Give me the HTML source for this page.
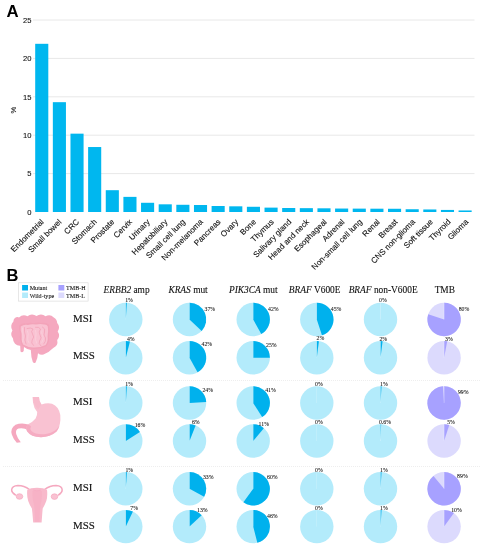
<!DOCTYPE html><html><head><meta charset="utf-8"><style>html,body{margin:0;padding:0;background:#fff;width:488px;height:550px;overflow:hidden}svg{display:block;will-change:transform}</style></head><body>
<svg width="488" height="550" viewBox="0 0 488 550">
<rect width="488" height="550" fill="#fff"/>
<text x="6.5" y="16.6" font-family="Liberation Sans" font-weight="bold" font-size="16.8">A</text>
<text x="31.5" y="214.70" font-family="Liberation Sans" font-size="7.6" text-anchor="end" fill="#111" stroke="#111" stroke-width="0.1">0</text>
<line x1="33" x2="474.5" y1="173.60" y2="173.60" stroke="#e8e8e8" stroke-width="1"/>
<text x="31.5" y="176.30" font-family="Liberation Sans" font-size="7.6" text-anchor="end" fill="#111" stroke="#111" stroke-width="0.1">5</text>
<line x1="33" x2="474.5" y1="135.20" y2="135.20" stroke="#e8e8e8" stroke-width="1"/>
<text x="31.5" y="137.90" font-family="Liberation Sans" font-size="7.6" text-anchor="end" fill="#111" stroke="#111" stroke-width="0.1">10</text>
<line x1="33" x2="474.5" y1="96.80" y2="96.80" stroke="#e8e8e8" stroke-width="1"/>
<text x="31.5" y="99.50" font-family="Liberation Sans" font-size="7.6" text-anchor="end" fill="#111" stroke="#111" stroke-width="0.1">15</text>
<line x1="33" x2="474.5" y1="58.40" y2="58.40" stroke="#e8e8e8" stroke-width="1"/>
<text x="31.5" y="61.10" font-family="Liberation Sans" font-size="7.6" text-anchor="end" fill="#111" stroke="#111" stroke-width="0.1">20</text>
<line x1="33" x2="474.5" y1="20.00" y2="20.00" stroke="#e8e8e8" stroke-width="1"/>
<text x="31.5" y="22.70" font-family="Liberation Sans" font-size="7.6" text-anchor="end" fill="#111" stroke="#111" stroke-width="0.1">25</text>
<text transform="translate(15.5,110) rotate(-90)" font-family="Liberation Sans" font-size="7.6" text-anchor="middle" fill="#111" stroke="#111" stroke-width="0.1">%</text>
<rect x="35.20" y="43.81" width="13.1" height="168.19" fill="#00b7ef"/>
<text transform="translate(44.25,222.4) rotate(-45)" font-family="Liberation Sans" font-size="8.0" text-anchor="end" fill="#111" stroke="#111" stroke-width="0.12">Endometrial</text>
<rect x="52.84" y="102.18" width="13.1" height="109.82" fill="#00b7ef"/>
<text transform="translate(61.94,222.4) rotate(-45)" font-family="Liberation Sans" font-size="8.0" text-anchor="end" fill="#111" stroke="#111" stroke-width="0.12">Small bowel</text>
<rect x="70.48" y="133.66" width="13.1" height="78.34" fill="#00b7ef"/>
<text transform="translate(79.63,222.4) rotate(-45)" font-family="Liberation Sans" font-size="8.0" text-anchor="end" fill="#111" stroke="#111" stroke-width="0.12">CRC</text>
<rect x="88.12" y="147.03" width="13.1" height="64.97" fill="#00b7ef"/>
<text transform="translate(97.32,222.4) rotate(-45)" font-family="Liberation Sans" font-size="8.0" text-anchor="end" fill="#111" stroke="#111" stroke-width="0.12">Stomach</text>
<rect x="105.76" y="190.19" width="13.1" height="21.81" fill="#00b7ef"/>
<text transform="translate(115.01,222.4) rotate(-45)" font-family="Liberation Sans" font-size="8.0" text-anchor="end" fill="#111" stroke="#111" stroke-width="0.12">Prostate</text>
<rect x="123.40" y="196.87" width="13.1" height="15.13" fill="#00b7ef"/>
<text transform="translate(132.70,222.4) rotate(-45)" font-family="Liberation Sans" font-size="8.0" text-anchor="end" fill="#111" stroke="#111" stroke-width="0.12">Cervix</text>
<rect x="141.04" y="202.78" width="13.1" height="9.22" fill="#00b7ef"/>
<text transform="translate(150.39,222.4) rotate(-45)" font-family="Liberation Sans" font-size="8.0" text-anchor="end" fill="#111" stroke="#111" stroke-width="0.12">Urinary</text>
<rect x="158.68" y="204.32" width="13.1" height="7.68" fill="#00b7ef"/>
<text transform="translate(168.08,222.4) rotate(-45)" font-family="Liberation Sans" font-size="8.0" text-anchor="end" fill="#111" stroke="#111" stroke-width="0.12">Hepatobiliary</text>
<rect x="176.32" y="204.78" width="13.1" height="7.22" fill="#00b7ef"/>
<text transform="translate(185.77,222.4) rotate(-45)" font-family="Liberation Sans" font-size="8.0" text-anchor="end" fill="#111" stroke="#111" stroke-width="0.12">Small cell lung</text>
<rect x="193.96" y="205.01" width="13.1" height="6.99" fill="#00b7ef"/>
<text transform="translate(203.46,222.4) rotate(-45)" font-family="Liberation Sans" font-size="8.0" text-anchor="end" fill="#111" stroke="#111" stroke-width="0.12">Non-melanoma</text>
<rect x="211.60" y="206.01" width="13.1" height="5.99" fill="#00b7ef"/>
<text transform="translate(221.15,222.4) rotate(-45)" font-family="Liberation Sans" font-size="8.0" text-anchor="end" fill="#111" stroke="#111" stroke-width="0.12">Pancreas</text>
<rect x="229.24" y="206.32" width="13.1" height="5.68" fill="#00b7ef"/>
<text transform="translate(238.84,222.4) rotate(-45)" font-family="Liberation Sans" font-size="8.0" text-anchor="end" fill="#111" stroke="#111" stroke-width="0.12">Ovary</text>
<rect x="246.88" y="206.78" width="13.1" height="5.22" fill="#00b7ef"/>
<text transform="translate(256.53,222.4) rotate(-45)" font-family="Liberation Sans" font-size="8.0" text-anchor="end" fill="#111" stroke="#111" stroke-width="0.12">Bone</text>
<rect x="264.52" y="207.62" width="13.1" height="4.38" fill="#00b7ef"/>
<text transform="translate(274.22,222.4) rotate(-45)" font-family="Liberation Sans" font-size="8.0" text-anchor="end" fill="#111" stroke="#111" stroke-width="0.12">Thymus</text>
<rect x="282.16" y="208.01" width="13.1" height="3.99" fill="#00b7ef"/>
<text transform="translate(291.91,222.4) rotate(-45)" font-family="Liberation Sans" font-size="8.0" text-anchor="end" fill="#111" stroke="#111" stroke-width="0.12">Salivary gland</text>
<rect x="299.80" y="208.16" width="13.1" height="3.84" fill="#00b7ef"/>
<text transform="translate(309.60,222.4) rotate(-45)" font-family="Liberation Sans" font-size="8.0" text-anchor="end" fill="#111" stroke="#111" stroke-width="0.12">Head and neck</text>
<rect x="317.44" y="208.31" width="13.1" height="3.69" fill="#00b7ef"/>
<text transform="translate(327.29,222.4) rotate(-45)" font-family="Liberation Sans" font-size="8.0" text-anchor="end" fill="#111" stroke="#111" stroke-width="0.12">Esophageal</text>
<rect x="335.08" y="208.54" width="13.1" height="3.46" fill="#00b7ef"/>
<text transform="translate(344.98,222.4) rotate(-45)" font-family="Liberation Sans" font-size="8.0" text-anchor="end" fill="#111" stroke="#111" stroke-width="0.12">Adrenal</text>
<rect x="352.72" y="208.62" width="13.1" height="3.38" fill="#00b7ef"/>
<text transform="translate(362.67,222.4) rotate(-45)" font-family="Liberation Sans" font-size="8.0" text-anchor="end" fill="#111" stroke="#111" stroke-width="0.12">Non-small cell lung</text>
<rect x="370.36" y="208.70" width="13.1" height="3.30" fill="#00b7ef"/>
<text transform="translate(380.36,222.4) rotate(-45)" font-family="Liberation Sans" font-size="8.0" text-anchor="end" fill="#111" stroke="#111" stroke-width="0.12">Renal</text>
<rect x="388.00" y="208.77" width="13.1" height="3.23" fill="#00b7ef"/>
<text transform="translate(398.05,222.4) rotate(-45)" font-family="Liberation Sans" font-size="8.0" text-anchor="end" fill="#111" stroke="#111" stroke-width="0.12">Breast</text>
<rect x="405.64" y="209.24" width="13.1" height="2.76" fill="#00b7ef"/>
<text transform="translate(415.74,222.4) rotate(-45)" font-family="Liberation Sans" font-size="8.0" text-anchor="end" fill="#111" stroke="#111" stroke-width="0.12">CNS non-glioma</text>
<rect x="423.28" y="209.47" width="13.1" height="2.53" fill="#00b7ef"/>
<text transform="translate(433.43,222.4) rotate(-45)" font-family="Liberation Sans" font-size="8.0" text-anchor="end" fill="#111" stroke="#111" stroke-width="0.12">Soft tissue</text>
<rect x="440.92" y="209.93" width="13.1" height="2.07" fill="#00b7ef"/>
<text transform="translate(451.12,222.4) rotate(-45)" font-family="Liberation Sans" font-size="8.0" text-anchor="end" fill="#111" stroke="#111" stroke-width="0.12">Thyroid</text>
<rect x="458.56" y="210.46" width="13.1" height="1.54" fill="#00b7ef"/>
<text transform="translate(468.81,222.4) rotate(-45)" font-family="Liberation Sans" font-size="8.0" text-anchor="end" fill="#111" stroke="#111" stroke-width="0.12">Glioma</text>
<text x="6.6" y="280.6" font-family="Liberation Sans" font-weight="bold" font-size="16.5">B</text>
<rect x="18.5" y="282.8" width="69.6" height="18.3" fill="#fff" stroke="#d8d8d8" stroke-width="0.6"/>
<rect x="22.1" y="285" width="5.9" height="5.5" fill="#00b1ed"/>
<text x="29.70" y="290.00" font-family="Liberation Serif" font-size="6.1" fill="#111" stroke="#111" stroke-width="0.08">Mutant</text>
<rect x="22.1" y="292.5" width="5.9" height="5.5" fill="#b3ebfb"/>
<text x="29.70" y="297.50" font-family="Liberation Serif" font-size="6.1" fill="#111" stroke="#111" stroke-width="0.08">Wild-type</text>
<rect x="58.4" y="285" width="5.9" height="5.5" fill="#a7a1ff"/>
<text x="66.00" y="290.00" font-family="Liberation Serif" font-size="6.1" fill="#111" stroke="#111" stroke-width="0.08">TMB-H</text>
<rect x="58.4" y="292.5" width="5.9" height="5.5" fill="#dcdafd"/>
<text x="66.00" y="297.50" font-family="Liberation Serif" font-size="6.1" fill="#111" stroke="#111" stroke-width="0.08">TMB-L</text>
<text x="126.55" y="292.6" font-family="Liberation Serif" font-size="9.4" text-anchor="middle" fill="#111" stroke="#111" stroke-width="0.1"><tspan font-style="italic">ERBB2</tspan> amp</text>
<text x="188.05" y="292.6" font-family="Liberation Serif" font-size="9.4" text-anchor="middle" fill="#111" stroke="#111" stroke-width="0.1"><tspan font-style="italic">KRAS</tspan> mut</text>
<text x="253.30" y="292.6" font-family="Liberation Serif" font-size="9.4" text-anchor="middle" fill="#111" stroke="#111" stroke-width="0.1"><tspan font-style="italic">PIK3CA</tspan> mut</text>
<text x="314.70" y="292.6" font-family="Liberation Serif" font-size="9.4" text-anchor="middle" fill="#111" stroke="#111" stroke-width="0.1"><tspan font-style="italic">BRAF</tspan> V600E</text>
<text x="383.15" y="292.6" font-family="Liberation Serif" font-size="9.4" text-anchor="middle" fill="#111" stroke="#111" stroke-width="0.1"><tspan font-style="italic">BRAF</tspan> non-V600E</text>
<text x="444.80" y="292.6" font-family="Liberation Serif" font-size="9.4" text-anchor="middle" fill="#111" stroke="#111" stroke-width="0.1">TMB</text>
<circle cx="125.8" cy="319.45" r="16.7" fill="#b3ebfb"/>
<path d="M125.80,319.45L125.80,302.75A16.7,16.7 0 0 1 126.85,302.78Z" fill="#00b1ed"/>
<line x1="125.8" y1="319.45" x2="125.8" y2="302.75" stroke="#fff" stroke-width="0.35" opacity="0.7"/>
<text x="125.2" y="302.30" font-family="Liberation Serif" font-size="5.8" fill="#111" stroke="#111" stroke-width="0.06">1%</text>
<circle cx="189.5" cy="319.45" r="16.7" fill="#b3ebfb"/>
<path d="M189.50,319.45L189.50,302.75A16.7,16.7 0 0 1 201.67,330.88Z" fill="#00b1ed"/>
<line x1="189.5" y1="319.45" x2="189.5" y2="302.75" stroke="#fff" stroke-width="0.35" opacity="0.7"/>
<text x="204.5" y="310.90" font-family="Liberation Serif" font-size="5.8" fill="#111" stroke="#111" stroke-width="0.06">37%</text>
<circle cx="253.2" cy="319.45" r="16.7" fill="#b3ebfb"/>
<path d="M253.20,319.45L253.20,302.75A16.7,16.7 0 0 1 261.25,334.08Z" fill="#00b1ed"/>
<line x1="253.2" y1="319.45" x2="253.2" y2="302.75" stroke="#fff" stroke-width="0.35" opacity="0.7"/>
<text x="268" y="311.00" font-family="Liberation Serif" font-size="5.8" fill="#111" stroke="#111" stroke-width="0.06">42%</text>
<circle cx="316.8" cy="319.45" r="16.7" fill="#b3ebfb"/>
<path d="M316.80,319.45L316.80,302.75A16.7,16.7 0 0 1 321.96,335.33Z" fill="#00b1ed"/>
<line x1="316.8" y1="319.45" x2="316.8" y2="302.75" stroke="#fff" stroke-width="0.35" opacity="0.7"/>
<text x="330.8" y="311.40" font-family="Liberation Serif" font-size="5.8" fill="#111" stroke="#111" stroke-width="0.06">45%</text>
<circle cx="380.5" cy="319.45" r="16.7" fill="#b3ebfb"/>
<line x1="380.5" y1="319.45" x2="380.5" y2="302.75" stroke="#fff" stroke-width="0.35" opacity="0.7"/>
<text x="379" y="302.00" font-family="Liberation Serif" font-size="5.8" fill="#111" stroke="#111" stroke-width="0.06">0%</text>
<circle cx="444.1" cy="319.45" r="16.7" fill="#dcdafd"/>
<path d="M444.10,319.45L444.10,302.75A16.7,16.7 0 1 1 428.22,314.29Z" fill="#a7a1ff"/>
<line x1="444.1" y1="319.45" x2="444.1" y2="302.75" stroke="#fff" stroke-width="0.35" opacity="0.7"/>
<text x="458.7" y="310.70" font-family="Liberation Serif" font-size="5.8" fill="#111" stroke="#111" stroke-width="0.06">80%</text>
<circle cx="125.8" cy="357.7" r="16.7" fill="#b3ebfb"/>
<path d="M125.80,357.70L125.80,341.00A16.7,16.7 0 0 1 129.95,341.52Z" fill="#00b1ed"/>
<line x1="125.8" y1="357.7" x2="125.8" y2="341.0" stroke="#fff" stroke-width="0.35" opacity="0.7"/>
<text x="126.9" y="341.00" font-family="Liberation Serif" font-size="5.8" fill="#111" stroke="#111" stroke-width="0.06">4%</text>
<circle cx="189.5" cy="357.7" r="16.7" fill="#b3ebfb"/>
<path d="M189.50,357.70L189.50,341.00A16.7,16.7 0 0 1 197.55,372.33Z" fill="#00b1ed"/>
<line x1="189.5" y1="357.7" x2="189.5" y2="341.0" stroke="#fff" stroke-width="0.35" opacity="0.7"/>
<text x="201.5" y="346.20" font-family="Liberation Serif" font-size="5.8" fill="#111" stroke="#111" stroke-width="0.06">42%</text>
<circle cx="253.2" cy="357.7" r="16.7" fill="#b3ebfb"/>
<path d="M253.20,357.70L253.20,341.00A16.7,16.7 0 0 1 269.90,357.70Z" fill="#00b1ed"/>
<line x1="253.2" y1="357.7" x2="253.2" y2="341.0" stroke="#fff" stroke-width="0.35" opacity="0.7"/>
<text x="266" y="346.90" font-family="Liberation Serif" font-size="5.8" fill="#111" stroke="#111" stroke-width="0.06">25%</text>
<circle cx="316.8" cy="357.7" r="16.7" fill="#b3ebfb"/>
<path d="M316.80,357.70L316.80,341.00A16.7,16.7 0 0 1 318.89,341.13Z" fill="#00b1ed"/>
<line x1="316.8" y1="357.7" x2="316.8" y2="341.0" stroke="#fff" stroke-width="0.35" opacity="0.7"/>
<text x="316.5" y="340.00" font-family="Liberation Serif" font-size="5.8" fill="#111" stroke="#111" stroke-width="0.06">2%</text>
<circle cx="380.5" cy="357.7" r="16.7" fill="#b3ebfb"/>
<path d="M380.50,357.70L380.50,341.00A16.7,16.7 0 0 1 382.59,341.13Z" fill="#00b1ed"/>
<line x1="380.5" y1="357.7" x2="380.5" y2="341.0" stroke="#fff" stroke-width="0.35" opacity="0.7"/>
<text x="379.4" y="340.50" font-family="Liberation Serif" font-size="5.8" fill="#111" stroke="#111" stroke-width="0.06">2%</text>
<circle cx="444.1" cy="357.7" r="16.7" fill="#dcdafd"/>
<path d="M444.10,357.70L444.10,341.00A16.7,16.7 0 0 1 447.23,341.30Z" fill="#a7a1ff"/>
<line x1="444.1" y1="357.7" x2="444.1" y2="341.0" stroke="#fff" stroke-width="0.35" opacity="0.7"/>
<text x="445" y="340.70" font-family="Liberation Serif" font-size="5.8" fill="#111" stroke="#111" stroke-width="0.06">3%</text>
<circle cx="125.8" cy="403.0" r="16.7" fill="#b3ebfb"/>
<path d="M125.80,403.00L125.80,386.30A16.7,16.7 0 0 1 126.85,386.33Z" fill="#00b1ed"/>
<line x1="125.8" y1="403.0" x2="125.8" y2="386.3" stroke="#fff" stroke-width="0.35" opacity="0.7"/>
<text x="125.3" y="386.00" font-family="Liberation Serif" font-size="5.8" fill="#111" stroke="#111" stroke-width="0.06">1%</text>
<circle cx="189.5" cy="403.0" r="16.7" fill="#b3ebfb"/>
<path d="M189.50,403.00L189.50,386.30A16.7,16.7 0 0 1 206.17,401.95Z" fill="#00b1ed"/>
<line x1="189.5" y1="403.0" x2="189.5" y2="386.3" stroke="#fff" stroke-width="0.35" opacity="0.7"/>
<text x="202.4" y="391.80" font-family="Liberation Serif" font-size="5.8" fill="#111" stroke="#111" stroke-width="0.06">24%</text>
<circle cx="253.2" cy="403.0" r="16.7" fill="#b3ebfb"/>
<path d="M253.20,403.00L253.20,386.30A16.7,16.7 0 0 1 262.15,417.10Z" fill="#00b1ed"/>
<line x1="253.2" y1="403.0" x2="253.2" y2="386.3" stroke="#fff" stroke-width="0.35" opacity="0.7"/>
<text x="265.2" y="392.00" font-family="Liberation Serif" font-size="5.8" fill="#111" stroke="#111" stroke-width="0.06">41%</text>
<circle cx="316.8" cy="403.0" r="16.7" fill="#b3ebfb"/>
<line x1="316.8" y1="403.0" x2="316.8" y2="386.3" stroke="#fff" stroke-width="0.35" opacity="0.7"/>
<text x="315" y="385.90" font-family="Liberation Serif" font-size="5.8" fill="#111" stroke="#111" stroke-width="0.06">0%</text>
<circle cx="380.5" cy="403.0" r="16.7" fill="#b3ebfb"/>
<path d="M380.50,403.00L380.50,386.30A16.7,16.7 0 0 1 381.55,386.33Z" fill="#00b1ed"/>
<line x1="380.5" y1="403.0" x2="380.5" y2="386.3" stroke="#fff" stroke-width="0.35" opacity="0.7"/>
<text x="380" y="385.90" font-family="Liberation Serif" font-size="5.8" fill="#111" stroke="#111" stroke-width="0.06">1%</text>
<circle cx="444.1" cy="403.0" r="16.7" fill="#dcdafd"/>
<path d="M444.10,403.00L444.10,386.30A16.7,16.7 0 1 1 443.05,386.33Z" fill="#a7a1ff"/>
<line x1="444.1" y1="403.0" x2="444.1" y2="386.3" stroke="#fff" stroke-width="0.35" opacity="0.7"/>
<text x="457.9" y="393.70" font-family="Liberation Serif" font-size="5.8" fill="#111" stroke="#111" stroke-width="0.06">99%</text>
<circle cx="125.8" cy="441.0" r="16.7" fill="#b3ebfb"/>
<path d="M125.80,441.00L125.80,424.30A16.7,16.7 0 0 1 139.90,432.05Z" fill="#00b1ed"/>
<line x1="125.8" y1="441.0" x2="125.8" y2="424.3" stroke="#fff" stroke-width="0.35" opacity="0.7"/>
<text x="134.7" y="426.90" font-family="Liberation Serif" font-size="5.8" fill="#111" stroke="#111" stroke-width="0.06">16%</text>
<circle cx="189.5" cy="441.0" r="16.7" fill="#b3ebfb"/>
<path d="M189.50,441.00L189.50,424.30A16.7,16.7 0 0 1 195.65,425.47Z" fill="#00b1ed"/>
<line x1="189.5" y1="441.0" x2="189.5" y2="424.3" stroke="#fff" stroke-width="0.35" opacity="0.7"/>
<text x="191.9" y="424.30" font-family="Liberation Serif" font-size="5.8" fill="#111" stroke="#111" stroke-width="0.06">6%</text>
<circle cx="253.2" cy="441.0" r="16.7" fill="#b3ebfb"/>
<path d="M253.20,441.00L253.20,424.30A16.7,16.7 0 0 1 263.84,428.13Z" fill="#00b1ed"/>
<line x1="253.2" y1="441.0" x2="253.2" y2="424.3" stroke="#fff" stroke-width="0.35" opacity="0.7"/>
<text x="258.6" y="425.70" font-family="Liberation Serif" font-size="5.8" fill="#111" stroke="#111" stroke-width="0.06">11%</text>
<circle cx="316.8" cy="441.0" r="16.7" fill="#b3ebfb"/>
<line x1="316.8" y1="441.0" x2="316.8" y2="424.3" stroke="#fff" stroke-width="0.35" opacity="0.7"/>
<text x="315" y="424.00" font-family="Liberation Serif" font-size="5.8" fill="#111" stroke="#111" stroke-width="0.06">0%</text>
<circle cx="380.5" cy="441.0" r="16.7" fill="#b3ebfb"/>
<path d="M380.50,441.00L380.50,424.30A16.7,16.7 0 0 1 381.13,424.31Z" fill="#00b1ed"/>
<line x1="380.5" y1="441.0" x2="380.5" y2="424.3" stroke="#fff" stroke-width="0.35" opacity="0.7"/>
<text x="378.9" y="424.00" font-family="Liberation Serif" font-size="5.8" fill="#111" stroke="#111" stroke-width="0.06">0.6%</text>
<circle cx="444.1" cy="441.0" r="16.7" fill="#dcdafd"/>
<path d="M444.10,441.00L444.10,424.30A16.7,16.7 0 0 1 449.26,425.12Z" fill="#a7a1ff"/>
<line x1="444.1" y1="441.0" x2="444.1" y2="424.3" stroke="#fff" stroke-width="0.35" opacity="0.7"/>
<text x="447.2" y="424.30" font-family="Liberation Serif" font-size="5.8" fill="#111" stroke="#111" stroke-width="0.06">5%</text>
<circle cx="125.8" cy="488.8" r="16.7" fill="#b3ebfb"/>
<path d="M125.80,488.80L125.80,472.10A16.7,16.7 0 0 1 126.85,472.13Z" fill="#00b1ed"/>
<line x1="125.8" y1="488.8" x2="125.8" y2="472.1" stroke="#fff" stroke-width="0.35" opacity="0.7"/>
<text x="125.4" y="471.70" font-family="Liberation Serif" font-size="5.8" fill="#111" stroke="#111" stroke-width="0.06">1%</text>
<circle cx="189.5" cy="488.8" r="16.7" fill="#b3ebfb"/>
<path d="M189.50,488.80L189.50,472.10A16.7,16.7 0 0 1 204.13,496.85Z" fill="#00b1ed"/>
<line x1="189.5" y1="488.8" x2="189.5" y2="472.1" stroke="#fff" stroke-width="0.35" opacity="0.7"/>
<text x="202.9" y="479.10" font-family="Liberation Serif" font-size="5.8" fill="#111" stroke="#111" stroke-width="0.06">33%</text>
<circle cx="253.2" cy="488.8" r="16.7" fill="#b3ebfb"/>
<path d="M253.20,488.80L253.20,472.10A16.7,16.7 0 1 1 243.38,502.31Z" fill="#00b1ed"/>
<line x1="253.2" y1="488.8" x2="253.2" y2="472.1" stroke="#fff" stroke-width="0.35" opacity="0.7"/>
<text x="267" y="479.10" font-family="Liberation Serif" font-size="5.8" fill="#111" stroke="#111" stroke-width="0.06">60%</text>
<circle cx="316.8" cy="488.8" r="16.7" fill="#b3ebfb"/>
<line x1="316.8" y1="488.8" x2="316.8" y2="472.1" stroke="#fff" stroke-width="0.35" opacity="0.7"/>
<text x="315" y="471.80" font-family="Liberation Serif" font-size="5.8" fill="#111" stroke="#111" stroke-width="0.06">0%</text>
<circle cx="380.5" cy="488.8" r="16.7" fill="#b3ebfb"/>
<path d="M380.50,488.80L380.50,472.10A16.7,16.7 0 0 1 381.55,472.13Z" fill="#00b1ed"/>
<line x1="380.5" y1="488.8" x2="380.5" y2="472.1" stroke="#fff" stroke-width="0.35" opacity="0.7"/>
<text x="380" y="471.80" font-family="Liberation Serif" font-size="5.8" fill="#111" stroke="#111" stroke-width="0.06">1%</text>
<circle cx="444.1" cy="488.8" r="16.7" fill="#dcdafd"/>
<path d="M444.10,488.80L444.10,472.10A16.7,16.7 0 1 1 433.46,475.93Z" fill="#a7a1ff"/>
<line x1="444.1" y1="488.8" x2="444.1" y2="472.1" stroke="#fff" stroke-width="0.35" opacity="0.7"/>
<text x="457.1" y="478.00" font-family="Liberation Serif" font-size="5.8" fill="#111" stroke="#111" stroke-width="0.06">89%</text>
<circle cx="125.8" cy="526.6" r="16.7" fill="#b3ebfb"/>
<path d="M125.80,526.60L125.80,509.90A16.7,16.7 0 0 1 132.91,511.49Z" fill="#00b1ed"/>
<line x1="125.8" y1="526.6" x2="125.8" y2="509.90000000000003" stroke="#fff" stroke-width="0.35" opacity="0.7"/>
<text x="130.3" y="510.40" font-family="Liberation Serif" font-size="5.8" fill="#111" stroke="#111" stroke-width="0.06">7%</text>
<circle cx="189.5" cy="526.6" r="16.7" fill="#b3ebfb"/>
<path d="M189.50,526.60L189.50,509.90A16.7,16.7 0 0 1 201.67,515.17Z" fill="#00b1ed"/>
<line x1="189.5" y1="526.6" x2="189.5" y2="509.90000000000003" stroke="#fff" stroke-width="0.35" opacity="0.7"/>
<text x="197" y="511.70" font-family="Liberation Serif" font-size="5.8" fill="#111" stroke="#111" stroke-width="0.06">13%</text>
<circle cx="253.2" cy="526.6" r="16.7" fill="#b3ebfb"/>
<path d="M253.20,526.60L253.20,509.90A16.7,16.7 0 0 1 257.35,542.78Z" fill="#00b1ed"/>
<line x1="253.2" y1="526.6" x2="253.2" y2="509.90000000000003" stroke="#fff" stroke-width="0.35" opacity="0.7"/>
<text x="267" y="517.50" font-family="Liberation Serif" font-size="5.8" fill="#111" stroke="#111" stroke-width="0.06">46%</text>
<circle cx="316.8" cy="526.6" r="16.7" fill="#b3ebfb"/>
<line x1="316.8" y1="526.6" x2="316.8" y2="509.90000000000003" stroke="#fff" stroke-width="0.35" opacity="0.7"/>
<text x="315" y="509.50" font-family="Liberation Serif" font-size="5.8" fill="#111" stroke="#111" stroke-width="0.06">0%</text>
<circle cx="380.5" cy="526.6" r="16.7" fill="#b3ebfb"/>
<path d="M380.50,526.60L380.50,509.90A16.7,16.7 0 0 1 381.55,509.93Z" fill="#00b1ed"/>
<line x1="380.5" y1="526.6" x2="380.5" y2="509.90000000000003" stroke="#fff" stroke-width="0.35" opacity="0.7"/>
<text x="380" y="509.50" font-family="Liberation Serif" font-size="5.8" fill="#111" stroke="#111" stroke-width="0.06">1%</text>
<circle cx="444.1" cy="526.6" r="16.7" fill="#dcdafd"/>
<path d="M444.10,526.60L444.10,509.90A16.7,16.7 0 0 1 453.92,513.09Z" fill="#a7a1ff"/>
<line x1="444.1" y1="526.6" x2="444.1" y2="509.90000000000003" stroke="#fff" stroke-width="0.35" opacity="0.7"/>
<text x="451.2" y="511.70" font-family="Liberation Serif" font-size="5.8" fill="#111" stroke="#111" stroke-width="0.06">10%</text>
<text x="73.0" y="321.85" font-family="Liberation Serif" font-size="10.9" fill="#111" stroke="#111" stroke-width="0.14">MSI</text>
<text x="73.0" y="359.00" font-family="Liberation Serif" font-size="10.9" fill="#111" stroke="#111" stroke-width="0.14">MSS</text>
<text x="73.0" y="405.40" font-family="Liberation Serif" font-size="10.9" fill="#111" stroke="#111" stroke-width="0.14">MSI</text>
<text x="73.0" y="443.40" font-family="Liberation Serif" font-size="10.9" fill="#111" stroke="#111" stroke-width="0.14">MSS</text>
<text x="73.0" y="491.20" font-family="Liberation Serif" font-size="10.9" fill="#111" stroke="#111" stroke-width="0.14">MSI</text>
<text x="73.0" y="529.00" font-family="Liberation Serif" font-size="10.9" fill="#111" stroke="#111" stroke-width="0.14">MSS</text>
<line x1="3" x2="481" y1="380.5" y2="380.5" stroke="#dcdcdc" stroke-width="0.6" stroke-dasharray="0.8,1.2"/>
<line x1="3" x2="481" y1="466.5" y2="466.5" stroke="#dcdcdc" stroke-width="0.6" stroke-dasharray="0.8,1.2"/>
<g fill="#f5a8bf">
<path d="M13.4,321.5 A4.5,4.5 0 0 1 17.8,316.9 A7,7 0 0 1 19,317.6 A7,7 0 0 1 27.5,316.2 A7,7 0 0 1 36.5,316.1 A7,7 0 0 1 45.5,316.3 A7,7 0 0 1 53.8,317.4 A7,7 0 0 1 57.2,323 A7,7 0 0 1 57.7,331.5 A7,7 0 0 1 57.2,340 A7,7 0 0 1 53.2,348 Q48.5,352.8 43.5,354.6 Q40.2,355.2 38,353.2 Q37.8,358 35.6,362.4 Q34,363.6 32.8,362 Q31,357 30.8,350 Q27,349.5 24,347 L23.7,351 Q22.1,353.3 20.5,351.5 L20.2,345.8 A7,7 0 0 1 13,338.5 A7,7 0 0 1 12.4,330.5 A7,7 0 0 1 13.4,321.5 Z"/>
</g>
<path d="M19.2,325.5 Q22,322.6 26,323.6 Q30,322 34,323.2 Q38,321.8 42,323 Q46,322.4 49,324.5 Q50.2,330 49,336 Q49.8,342 46.5,346.2 Q40,349.4 33,349 Q27,348.5 22,345.4 Q19.2,340 20.2,334 Q18.6,329 19.2,325.5 Z" fill="#f3a3b9"/>
<path d="M20.8,326.4 Q24,324.2 28,325 Q32,323.5 36,324.6 Q40,323.4 44,324.4 Q47,324.2 47.8,326.5 Q48.6,331 47.6,336 Q48.2,341.5 45.6,345 Q40,347.8 33,347.5 Q27,347.2 23,344.6 Q21,340 21.6,334 Q20.2,329.5 20.8,326.4 Z" fill="#f9c2d2"/>
<g fill="none" stroke="#f3a3b9" stroke-width="0.8" stroke-linecap="round" stroke-linejoin="round">
<path d="M24.5,327.5 Q24,332 25.5,336 Q24,340 26,344"/>
<path d="M27,328.5 Q31,327.2 33,329 Q30.5,331.5 32.5,334 Q35,337 32.2,340 Q30.5,343 33.5,345.5"/>
<path d="M35.5,327.2 Q39,326.6 40.5,329 Q38,332 40,335 Q42.5,337.8 39.5,341 Q38,343.5 41,346"/>
<path d="M42.5,327 Q46,328.5 44.5,332 Q43,335 45.5,338 Q46.2,341.5 43.8,344"/>
</g>
<g fill="none" stroke="#fbd0dc" stroke-width="0.9" stroke-linecap="round" stroke-linejoin="round" opacity="0.9">
<path d="M22.6,328 L22.8,334 Q23.5,338 22.8,342"/>
<path d="M27.5,331 Q28.8,334 27.8,337 Q27,340 29,343"/>
<path d="M35.5,330.5 Q36.5,333 35.8,336 Q35,339.5 36.5,343"/>
<path d="M42,330 Q41,333 42.8,336 Q44,339 41.8,342.5"/>
</g>
<path d="M30,425 Q22,422 15.5,424.8 Q10,428.5 11.8,434.5 Q13.5,439.5 16.8,442.8 L20.8,442.2 Q17.5,438.5 16.2,434 Q15.2,430 18.5,428.6 Q23,427.2 28.5,430.2 Z" fill="#f5a8bf"/>
<path d="M32.6,397 L39,397 Q39.3,402 41.5,404.6 Q47,402.6 52,403.8 Q58.8,406.5 60.3,415 Q61.2,425 56.6,431.5 Q50,437.2 41,437.2 Q31,437 27,431.2 Q25.4,427 27.6,424.4 Q32.5,422.6 35.6,418.6 Q37.4,415.5 37.2,412 Q33.8,408 33,402.5 Z" fill="#f9c2d2"/>
<path d="M27.6,424.4 Q25.4,427 27,431.2 Q31,437 41,437.2 Q50,437.2 56.6,431.5 Q58.5,429 59.6,425.5 Q55,432.8 46,434 Q36,435 31.5,431 Q29.5,428.5 31,426.2 Q29.5,425.2 27.6,424.4 Z" fill="#f5a8bf" opacity="0.85"/>
<path d="M32.6,397 L39,397 Q39.3,402 41.5,404.6 Q40,406.5 38.3,409.5 Q35,406.5 33.6,402.5 Z" fill="#f3a3b9" opacity="0.2"/>
<g fill="none" stroke="#f5a8bf" stroke-width="1.5" stroke-linecap="round">
<path d="M29.5,489.5 Q24,485.5 18,485.5 Q12,485.8 11.6,490 Q11.8,493 15.5,495"/>
<path d="M44.5,489.5 Q50,485.5 56,485.5 Q62,485.8 62.2,490 Q62,493 58.5,495"/>
</g>
<ellipse cx="19.5" cy="496.5" rx="3.3" ry="2.8" fill="#f9c2d2" stroke="#f5a8bf" stroke-width="0.7"/>
<ellipse cx="54.5" cy="496.6" rx="3.3" ry="2.8" fill="#f9c2d2" stroke="#f5a8bf" stroke-width="0.7"/>
<path d="M27.3,489.8 Q30.5,487.7 37,487.7 Q43.5,487.7 47,489.8 Q47.8,496 46.3,501 Q44.8,505 42.7,508.5 L42.3,513 L41.6,522.6 L33.2,522.6 L32.4,513 L31.9,508.5 Q29.6,505 28.2,501 Q26.6,496 27.3,489.8 Z" fill="#f8b9cb"/>
<path d="M32.5,491 Q37,490 41.8,491 Q42.5,498 40.5,505 Q39.5,510 39.6,522 L35,522 Q35,510 34,505 Q32,498 32.5,491 Z" fill="#f6afc3" opacity="0.7"/>
<path d="M33,490 Q37,492 41,490" fill="none" stroke="#f5a8bf" stroke-width="0.6"/>
</svg></body></html>
